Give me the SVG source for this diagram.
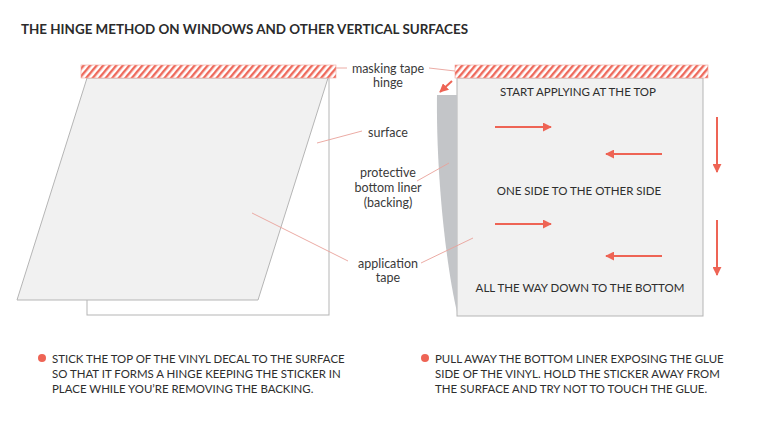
<svg xmlns="http://www.w3.org/2000/svg" width="768" height="430" viewBox="0 0 768 430">
<defs>
<pattern id="hatch" patternUnits="userSpaceOnUse" width="5" height="5" patternTransform="rotate(40)">
<rect width="5" height="5" fill="#ffffff"/>
<rect width="2.4" height="5" fill="#ee6a5c"/>
</pattern>
<marker id="ah" viewBox="0 0 10 10" refX="9" refY="5" markerWidth="4.5" markerHeight="4.5" markerUnits="strokeWidth" orient="auto">
<path d="M0,0 L10,5 L0,10 z" fill="#ee6455"/>
</marker>
<style>
.t{font-family:Lato,"Open Sans","Liberation Sans",sans-serif;fill:#2b2b2b}
.title{font-size:13.4px;font-weight:700}
.lbl{font-size:12.5px;text-anchor:middle;fill:#3a3a3a}
.cap{font-size:11.5px;text-anchor:middle;fill:#2e2e2e}
.body{font-size:11.45px;fill:#2e2e2e}
.panel{fill:#f1f1f1;stroke:#b5b5b5;stroke-width:1}
.tape{fill:url(#hatch);stroke:#f0a49b;stroke-width:0.6}
.lead{stroke:#e9a19a;stroke-width:0.9;fill:none}
.arr{stroke:#ee6455;stroke-width:2;fill:none;marker-end:url(#ah)}
</style>
</defs>
<rect width="768" height="430" fill="#ffffff"/>
<text class="t title" x="21" y="34">THE HINGE METHOD ON WINDOWS AND OTHER VERTICAL SURFACES</text>

<g id="left-surface">
<rect class="panel" x="87" y="78" width="242" height="237" style="fill:#ffffff"/>
</g>
<g id="left-sticker">
<polygon class="panel" points="87,78 328,78 258,300 17,300"/>
</g>
<g id="left-tape">
<rect class="tape" x="81" y="65" width="255" height="13"/>
</g>

<g id="right-sticker">
<rect class="panel" x="457" y="78" width="246" height="238"/>
</g>
<g id="right-liner">
<path d="M437,95 L457,95 L457,312 C447,270 436,180 437,95 z" fill="#c3c5c8"/>
</g>
<g id="right-tape">
<rect class="tape" x="455" y="65" width="253" height="13"/>
</g>

<g id="labels">
<text class="t lbl" x="388" y="73">masking tape</text>
<text class="t lbl" x="388" y="87">hinge</text>
<text class="t lbl" x="388" y="137">surface</text>
<text class="t lbl" x="388" y="177">protective</text>
<text class="t lbl" x="388" y="192">bottom liner</text>
<text class="t lbl" x="388" y="207">(backing)</text>
<text class="t lbl" x="388" y="268">application</text>
<text class="t lbl" x="388" y="282">tape</text>
</g>

<g id="captions">
<text class="t cap" x="578" y="96">START APPLYING AT THE TOP</text>
<text class="t cap" x="579" y="195">ONE SIDE TO THE OTHER SIDE</text>
<text class="t cap" x="580" y="292">ALL THE WAY DOWN TO THE BOTTOM</text>
</g>

<g id="connectors">
<line class="lead" x1="336" y1="68" x2="347" y2="68"/>
<line class="lead" x1="429" y1="68" x2="455" y2="71"/>
<line class="lead" x1="317" y1="143" x2="362" y2="131"/>
<line class="lead" x1="417" y1="181" x2="449" y2="163"/>
<line class="lead" x1="252" y1="213" x2="348" y2="261"/>
<line class="lead" x1="421" y1="263" x2="473" y2="238"/>
<line class="arr" x1="452" y1="81" x2="440" y2="92"/>
<line class="arr" x1="495" y1="127" x2="551" y2="127"/>
<line class="arr" x1="662" y1="154" x2="606" y2="154"/>
<line class="arr" x1="495" y1="224" x2="551" y2="224"/>
<line class="arr" x1="662" y1="256" x2="606" y2="256"/>
<line class="arr" x1="717" y1="117" x2="717" y2="172"/>
<line class="arr" x1="717" y1="220" x2="717" y2="275"/>
</g>

<g id="bullet-left">
<circle cx="42" cy="358" r="4" fill="#ee6455"/>
<text class="t body" x="52" y="363">STICK THE TOP OF THE VINYL DECAL TO THE SURFACE</text>
<text class="t body" x="52" y="378">SO THAT IT FORMS A HINGE KEEPING THE STICKER IN</text>
<text class="t body" x="52" y="393">PLACE WHILE YOU’RE REMOVING THE BACKING.</text>
</g>
<g id="bullet-right">
<circle cx="425" cy="358" r="4" fill="#ee6455"/>
<text class="t body" x="435" y="363">PULL AWAY THE BOTTOM LINER EXPOSING THE GLUE</text>
<text class="t body" x="435" y="378">SIDE OF THE VINYL. HOLD THE STICKER AWAY FROM</text>
<text class="t body" x="435" y="393">THE SURFACE AND TRY NOT TO TOUCH THE GLUE.</text>
</g>
</svg>
